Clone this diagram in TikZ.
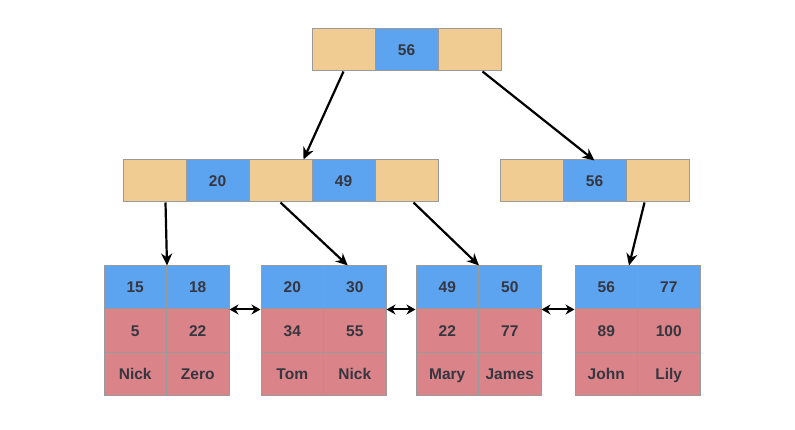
\documentclass[tikz,border=0pt]{standalone}
\usepackage{fontspec}
\setmainfont{Liberation Sans}
\usetikzlibrary{arrows.meta}
\definecolor{ptrfill}{HTML}{F1CC92}
\definecolor{keyfill}{HTML}{5CA4EF}
\definecolor{datafill}{HTML}{DA8388}
\definecolor{cellline}{HTML}{9A9A9A}
\definecolor{celltext}{HTML}{363640}
\tikzset{
  cell/.style={draw=cellline, line width=1pt, rectangle, inner sep=0pt,
    minimum width=63pt, minimum height=42pt, text=celltext,
    text height=11pt, text depth=0pt,
    font=\fontsize{15.5}{17}\selectfont\bfseries},
  ptrcell/.style={cell, fill=ptrfill},
  keycell/.style={cell, fill=keyfill},
  leafkey/.style={cell, fill=keyfill, minimum width=62.5pt, minimum height=43pt},
  leafdata/.style={cell, fill=datafill, minimum width=62.5pt, minimum height=43pt},
  ptr/.style={-{Stealth[length=12pt,width=11pt]}, line width=2.2pt},
  link/.style={{Stealth[length=9pt,width=10pt]}-{Stealth[length=9pt,width=10pt]}, line width=2pt}
}
\begin{document}
\begin{tikzpicture}[x=1pt,y=-1pt]
\useasboundingbox (0,0) rectangle (795,430);
% root
\node[ptrcell] (r1) at (343.5,50) {};
\node[keycell] (r2) at (406.5,50) {56};
\node[ptrcell] (r3) at (469.5,50) {};
% inner level, left
\node[ptrcell] (a1) at (154.5,181) {};
\node[keycell] (a2) at (217.5,181) {20};
\node[ptrcell] (a3) at (280.5,181) {};
\node[keycell] (a4) at (343.5,181) {49};
\node[ptrcell] (a5) at (406.5,181) {};
% inner level, right
\node[ptrcell] (b1) at (531.5,181) {};
\node[keycell] (b2) at (594.5,181) {56};
\node[ptrcell] (b3) at (657.5,181) {};
% leaves
\foreach \i/\x/\ka/\kb/\da/\db/\na/\nb in {
    1/135.25/15/18/5/22/Nick/Zero,
    2/292.25/20/30/34/55/Tom/Nick,
    3/447.25/49/50/22/77/Mary/James,
    4/606.25/56/77/89/100/John/Lily}{
  \node[leafkey] (l\i ka) at (\x,287.5) {\ka};
  \node[leafkey] (l\i kb) at (\x+62.5,287.5) {\kb};
  \node[leafdata] (l\i da) at (\x,330.5) {\da};
  \node[leafdata] (l\i db) at (\x+62.5,330.5) {\db};
  \node[leafdata] (l\i na) at (\x,373.5) {\na};
  \node[leafdata] (l\i nb) at (\x+62.5,373.5) {\nb};
}
% child pointers
\draw[ptr] (r1.south) -- ([xshift=-9pt]a3.north east);
\draw[ptr] ([xshift=13pt]r3.south) -- ([yshift=-1pt]b2.north);
\draw[ptr] ([xshift=11pt]a1.south) -- (l1ka.north east);
\draw[ptr] (a3.south) -- ([xshift=-7pt]l2kb.north);
\draw[ptr] ([xshift=7pt]a5.south) -- (l3ka.north east);
\draw[ptr] ([xshift=-13pt]b3.south) -- ([xshift=-9pt]l4ka.north east);
% sibling links
\draw[link] (l1kb.south east) -- (l2ka.south west);
\draw[link] (l2kb.south east) -- (l3ka.south west);
\draw[link] (l3kb.south east) -- (l4ka.south west);
\end{tikzpicture}
\end{document}
